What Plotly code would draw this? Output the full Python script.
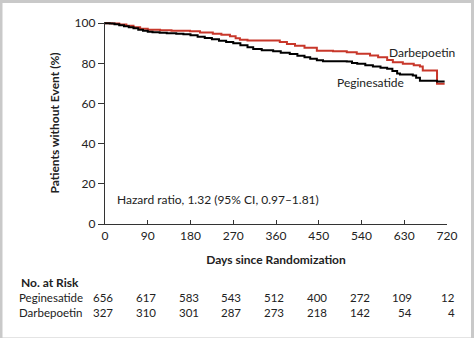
import plotly.graph_objects as go

# Kaplan-Meier estimates (percent of patients without event) by day
peg_days = [0, 10, 20, 30, 40, 50, 60, 70, 80, 90, 100, 115, 130, 150, 165, 180,
            195, 210, 225, 240, 255, 270, 285, 300, 312, 330, 354, 370, 389, 405,
            420, 432, 446, 459, 509, 520, 531, 548, 564, 580, 594, 605, 615, 621,
            648, 655, 663, 699, 715]
peg_surv = [100, 99.8, 99.5, 99.0, 98.5, 98.0, 97.5, 96.8, 96.2, 95.8, 95.5, 95.2,
            95.0, 94.8, 94.5, 94.0, 93.3, 92.6, 92.0, 91.3, 90.6, 90.0, 89.0, 88.0,
            87.2, 86.5, 86.0, 85.3, 84.7, 83.8, 83.0, 82.3, 81.5, 81.0, 80.9, 80.2,
            79.8, 79.0, 78.4, 77.8, 77.3, 76.2, 75.0, 74.4, 73.9, 72.8, 71.4, 71.0,
            71.0]

darb_days = [0, 15, 30, 45, 60, 74, 90, 116, 140, 179, 200, 227, 245, 263, 275,
             284, 300, 368, 383, 400, 420, 446, 480, 509, 530, 558, 575, 594, 606,
             627, 650, 663, 669, 699, 715]
darb_surv = [100, 99.8, 99.3, 98.7, 98.0, 97.3, 96.8, 96.5, 96.3, 96.0, 95.4, 94.7,
             94.2, 93.5, 92.5, 91.7, 91.4, 90.6, 89.7, 88.8, 87.8, 86.3, 86.0, 85.5,
             84.8, 83.9, 83.0, 81.7, 80.6, 79.8, 79.0, 78.4, 76.4, 69.8, 69.8]

# Numbers at risk
risk_days = [0, 90, 180, 270, 360, 450, 540, 630, 720]
risk_peg = [656, 617, 583, 543, 512, 400, 272, 109, 12]
risk_darb = [327, 310, 301, 287, 273, 218, 142, 54, 4]

x_ticks = [0, 90, 180, 270, 360, 450, 540, 630, 720]
y_ticks = [0, 20, 40, 60, 80, 100]

FONT = "Lato"
TXT = "#222222"
RED = "#c8372a"

W, H = 474, 338
ML, MR, MT, MB = 105, 27, 21.5, 113.5
PW, PH = W - ML - MR, H - MT - MB


def px_to_paper_y(py):
    return (H - MB - py) / PH


def px_to_paper_x(px):
    return (px - ML) / PW


fig = go.Figure()
fig.add_trace(go.Scatter(x=darb_days, y=darb_surv, mode="lines",
                         line=dict(color=RED, width=2, shape="hv"),
                         hoverinfo="skip", showlegend=False))
fig.add_trace(go.Scatter(x=peg_days, y=peg_surv, mode="lines",
                         line=dict(color="black", width=2, shape="hv"),
                         hoverinfo="skip", showlegend=False))

ann = []
# Curve labels
ann.append(dict(x=594, y=85.5, xref="x", yref="y", text="Darbepoetin",
                showarrow=False, xanchor="left", yanchor="middle",
                font=dict(family=FONT, size=12, color=TXT)))
ann.append(dict(x=484, y=70.6, xref="x", yref="y", text="Peginesatide",
                showarrow=False, xanchor="left", yanchor="middle",
                font=dict(family=FONT, size=12, color=TXT)))
ann.append(dict(x=21, y=12.1, xref="x", yref="y",
                text="Hazard ratio, 1.32 (95% CI, 0.97\u20131.81)",
                showarrow=False, xanchor="left", yanchor="middle",
                font=dict(family=FONT, size=12, color=TXT)))

# Number-at-risk table
ann.append(dict(x=px_to_paper_x(19), y=px_to_paper_y(283), xref="paper", yref="paper",
                text="<b>No. at Risk</b>", showarrow=False, xanchor="left",
                yanchor="middle", font=dict(family=FONT, size=12, color=TXT)))
for label, vals, py in [("Peginesatide", risk_peg, 298), ("Darbepoetin", risk_darb, 313)]:
    ann.append(dict(x=px_to_paper_x(17), y=px_to_paper_y(py), xref="paper", yref="paper",
                    text=label, showarrow=False, xanchor="left", yanchor="middle",
                    font=dict(family=FONT, size=11.5, color=TXT)))
    for d, v in zip(risk_days, vals):
        ann.append(dict(x=d, y=px_to_paper_y(py), xref="x", yref="paper",
                        text=str(v), showarrow=False, xanchor="right",
                        yanchor="middle", xshift=10,
                        font=dict(family=FONT, size=11.5, color=TXT)))

fig.update_layout(
    width=W, height=H,
    margin=dict(l=ML, r=MR, t=MT, b=MB),
    paper_bgcolor="white", plot_bgcolor="white",
    font=dict(family=FONT, size=12, color=TXT),
    annotations=ann,
    shapes=[
        # light grey frame around the figure
        dict(type="rect", xref="paper", yref="paper",
             x0=px_to_paper_x(1), x1=px_to_paper_x(472.5),
             y0=px_to_paper_y(340), y1=px_to_paper_y(1),
             line=dict(color="#c9c9c9", width=3), fillcolor="rgba(0,0,0,0)",
             layer="above"),
    ],
)
fig.update_xaxes(range=[0, 720], tickvals=x_ticks, ticks="inside", ticklen=4,
                 tickcolor="#333", showline=True, linecolor="#333", linewidth=1.3,
                 showgrid=False, zeroline=False,
                 tickfont=dict(family=FONT, size=12, color=TXT),
                 title=dict(text="<b>Days since Randomization</b>", standoff=14,
                            font=dict(family=FONT, size=12, color=TXT)))
fig.update_yaxes(range=[0, 100.6], tickvals=y_ticks, ticks="outside", ticklen=6,
                 tickcolor="#333", showline=True, linecolor="#333", linewidth=1.3,
                 showgrid=False, zeroline=False,
                 tickfont=dict(family=FONT, size=12, color=TXT),
                 title=dict(text="<b>Patients without Event (%)</b>", standoff=12,
                            font=dict(family=FONT, size=12, color=TXT)))

fig.write_html("out.html")
